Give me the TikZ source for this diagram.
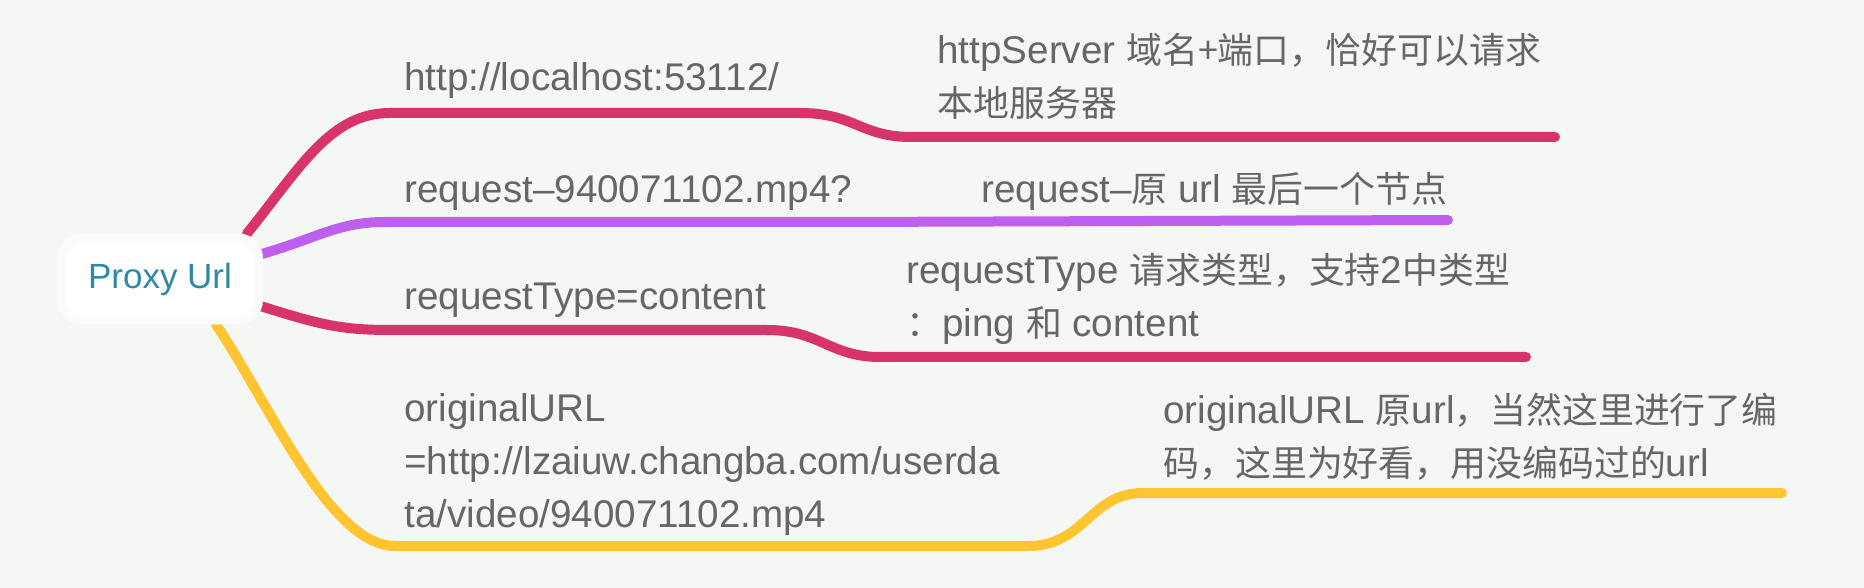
\documentclass[tikz,border=0pt]{standalone}
\usepackage{fontspec}
\setmainfont{Liberation Sans}
\newfontfamily\cjk{Noto Sans CJK SC}[Scale=0.93]

\definecolor{paper}{HTML}{F5F7F4}
\definecolor{inkgray}{HTML}{666666}
\definecolor{rootblue}{HTML}{2C8AA5}
\definecolor{rimwhite}{HTML}{FAFBFA}
\definecolor{branchred}{HTML}{D9336B}
\definecolor{branchpurple}{HTML}{BF5FEF}
\definecolor{branchyellow}{HTML}{FFC530}

\pgfdeclarelayer{paperlayer}
\pgfdeclarelayer{linelayer}
\pgfsetlayers{paperlayer,linelayer,main}

\tikzset{
    rootbox/.style={fill=white, draw=rimwhite, line width=4.5pt, rounded corners=10pt,
        minimum width=98.5pt, minimum height=41pt, inner sep=0pt,
        text=rootblue, font=\fontsize{17.5}{20}\selectfont},
    % multi-line leaves sit on the baseline of their last line
    leaf/.style={anchor=base west, inner sep=0pt, align=left, text=inkgray,
        font=\fontsize{19.3}{26.5}\selectfont},
    branch/.style={line width=5pt, line cap=round},
}

\begin{document}
\begin{tikzpicture}[x=0.5pt, y=-0.5pt]
    \begin{pgfonlayer}{paperlayer}
        \fill[paper] (0,0) rectangle (1864,588);
    \end{pgfonlayer}
    \useasboundingbox (0,0) rectangle (1864,588);

    \node[rootbox] (root) at (160,279) {Proxy Url};

    % first level
    \node[leaf] (host) at (404,91) {http://localhost:53112/};
    \node[leaf] (req) at (404,203) {request–940071102.mp4?};
    \node[leaf] (type) at (404,310) {requestType=content};
    \node[leaf] (orig) at (404,527) {originalURL\\=http://lzaiuw.changba.com/userda\\ta/video/940071102.mp4};

    % notes
    \node[leaf] (hostnote) at (937,117) {httpServer {\cjk 域名+端口，恰好可以请求}\\{\cjk 本地服务器}};
    \node[leaf] (reqnote) at (981,203) {request–{\cjk 原} url {\cjk 最后一个节点}};
    \node[leaf] (typenote) at (906,336) {requestType {\cjk 请求类型，支持}2{\cjk 中类型}\\{\cjk ：}ping {\cjk 和} content};
    \node[leaf] (orignote) at (1163,476) {originalURL {\cjk 原}url{\cjk ，当然这里进行了编}\\{\cjk 码，这里为好看，用没编码过的}url};

    % underline points
    \coordinate (hostA) at (390,113);
    \coordinate (hostB) at (800,113);
    \coordinate (hostC) at (912,137);
    \coordinate (hostD) at (1555,137);

    \coordinate (reqA) at (385,222);
    \coordinate (reqB) at (843,222);
    \coordinate (reqD) at (1448,220);

    \coordinate (typeA) at (392,330);
    \coordinate (typeB) at (767,330);
    \coordinate (typeC) at (880,357);
    \coordinate (typeD) at (1526,357);

    \coordinate (origA) at (395,546);
    \coordinate (origB) at (1028,546);
    \coordinate (origC) at (1143,493);
    \coordinate (origD) at (1782,493);

    \begin{pgfonlayer}{linelayer}
        % red, top
        \draw[branch, branchred] ([xshift=-8pt]root.north east) .. controls (300,168) and (330,113) .. (hostA)
            -- (hostB) .. controls (855,113) and (860,137) .. (hostC) -- (hostD);
        % purple
        \draw[branch, branchpurple] ([xshift=-6pt, yshift=11pt]root.east) .. controls (315,240) and (335,222) .. (reqA)
            -- (reqB) -- (reqD);
        % red, middle
        \draw[branch, branchred] ([xshift=-6pt, yshift=-12pt]root.east) .. controls (320,325) and (340,330) .. (typeA)
            -- (typeB) .. controls (820,330) and (830,357) .. (typeC) -- (typeD);
        % yellow
        \draw[branch, branchyellow] ([xshift=28pt]root.south) .. controls (270,405) and (330,546) .. (origA)
            -- (origB) .. controls (1085,546) and (1090,493) .. (origC) -- (origD);
    \end{pgfonlayer}
\end{tikzpicture}
\end{document}
